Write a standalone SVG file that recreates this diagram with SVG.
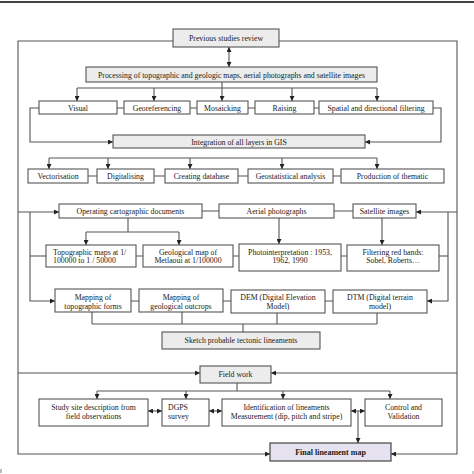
<svg xmlns="http://www.w3.org/2000/svg" width="474" height="474" viewBox="0 0 474 474">
<defs>
<marker id="ah" viewBox="0 0 6 6" refX="6" refY="3" markerWidth="5" markerHeight="5" orient="auto-start-reverse" markerUnits="userSpaceOnUse">
<path d="M0,0 L6,3 L0,6 z" fill="#222"/>
</marker>
<style>
.b{fill:#fff;stroke:#555;stroke-width:1.1}
.g{fill:#ececec;stroke:#555;stroke-width:1.1}
.f{fill:#e6e2ef;stroke:#444;stroke-width:1.2}
text{font-family:"Liberation Serif","Times New Roman",serif;font-size:7.8px;fill:#1a1a1a;text-anchor:middle}
.l{text-anchor:start}
.bold{font-weight:bold;font-size:8px}
#connectors path{fill:none;stroke:#555;stroke-width:1.1}
.a{marker-end:url(#ah)}
.d{marker-start:url(#ah);marker-end:url(#ah)}
</style>
</defs>
<rect width="474" height="474" fill="#fff"/>
<line x1="0" y1="2" x2="474" y2="2" stroke="#444" stroke-width="2"/>
<line x1="1" y1="469" x2="1" y2="473" stroke="#777" stroke-width="1"/>
<line x1="473" y1="471" x2="473" y2="474" stroke="#999" stroke-width="1"/>

<g id="connectors">
<path class="d" d="M229,47 V67"/>
<path class="a" d="M173,41 H18 V454 H270"/>
<path class="a" d="M279,41 H457 V454 H391"/>
<path class="a" d="M222,82 V101"/>
<path d="M77,88 H377"/>
<path class="a" d="M77,88 V101"/>
<path class="a" d="M154,88 V101"/>
<path class="a" d="M292,88 V101"/>
<path class="a" d="M377,88 V101"/>
<path d="M117,108 H124 M190,108 H197 M248,108 H255 M314,108 H319"/>
<path class="a" d="M39,108 H30 V142 H113"/>
<path class="a" d="M433,108 H441 V142 H365"/>
<path d="M49,158 H377"/>
<path class="a" d="M49,158 V169"/>
<path class="a" d="M108,158 V169"/>
<path class="a" d="M190,158 V169"/>
<path class="a" d="M282,158 V169"/>
<path class="a" d="M377,158 V169"/>
<path d="M88,176 H97 M154,176 H165 M238,176 H248 M333,176 H341"/>
<path class="a" d="M18,212 H59"/>
<path class="a" d="M30,212 V301 H55"/>
<path d="M30,256 H46"/>
<path d="M202,211 H219 M334,211 H353"/>
<path class="a" d="M457,212 H416"/>
<path class="a" d="M448,212 V301 H427"/>
<path d="M448,256 H439"/>
<path d="M128,218 V232 M86,232 H179"/>
<path class="a" d="M86,232 V245"/>
<path class="a" d="M179,232 V245"/>
<path class="a" d="M279,218 V244"/>
<path class="a" d="M382,218 V245"/>
<path d="M136,256 H143 M233,256 H239 M341,256 H347"/>
<path d="M131,301 H139 M223,301 H231 M325,301 H333"/>
<path d="M92,312 V324 M182,312 V324 M277,313 V324 M377,313 V324 M92,324 H377 M243,324 V332"/>
<path class="a" d="M18,373 H200"/>
<path class="a" d="M457,373 H271"/>
<path d="M237,383 V391 M97,391 H390"/>
<path class="a" d="M97,391 V399"/>
<path class="a" d="M186,391 V399"/>
<path class="a" d="M283,391 V399"/>
<path class="a" d="M390,391 V399"/>
<path class="d" d="M148,411 H162"/>
<path class="d" d="M209,411 H222"/>
<path class="d" d="M351,411 H365"/>
<path class="a" d="M358,411 V443"/>
</g>

<g id="previous"><rect class="g" x="173" y="29" width="106" height="18"/><text x="226" y="41">Previous studies review</text></g>
<g id="processing"><rect class="g" x="86" y="67" width="291" height="15"/><text x="231.5" y="77.5">Processing of topographic and geologic  maps, aerial  photographs and satellite images</text></g>
<g id="visual"><rect class="b" x="39" y="101" width="78" height="13"/><text x="78" y="110.5">Visual</text></g>
<g id="georef"><rect class="b" x="124" y="101" width="66" height="13"/><text x="157" y="110.5">Georeferencing</text></g>
<g id="mosaic"><rect class="b" x="197" y="101" width="51" height="13"/><text x="222.5" y="110.5">Mosaicking</text></g>
<g id="raising"><rect class="b" x="255" y="101" width="59" height="13"/><text x="284.5" y="110.5">Raising</text></g>
<g id="spatial"><rect class="b" x="319" y="101" width="114" height="13"/><text x="376" y="110.5">Spatial and directional filtering</text></g>
<g id="integration"><rect class="g" x="113" y="135" width="252" height="13"/><text x="239" y="144.5">Integration of all layers in GIS</text></g>
<g id="vector"><rect class="b" x="28" y="169" width="60" height="14"/><text x="58" y="179">Vectorisation</text></g>
<g id="digit"><rect class="b" x="97" y="169" width="57" height="14"/><text x="125.5" y="179">Digitalising</text></g>
<g id="createdb"><rect class="b" x="165" y="169" width="73" height="14"/><text x="201.5" y="179">Creating database</text></g>
<g id="geostat"><rect class="b" x="248" y="169" width="85" height="14"/><text x="290.5" y="179">Geostatistical analysis</text></g>
<g id="product"><rect class="b" x="341" y="169" width="103" height="14"/><text x="392.5" y="179">Production of thematic</text></g>
<g id="operating"><rect class="b" x="59" y="204" width="143" height="14"/><text x="130.5" y="214">Operating cartographic documents</text></g>
<g id="aerial"><rect class="b" x="219" y="204" width="115" height="14"/><text x="276.5" y="214">Aerial photographs</text></g>
<g id="satellite"><rect class="b" x="353" y="204" width="63" height="14"/><text x="384.5" y="214">Satellite images</text></g>
<g id="topo"><rect class="b" x="46" y="245" width="90" height="22"/><text class="l" x="53" y="254.5">Topographic maps at 1/</text><text class="l" x="53" y="263">100000 to 1 / 50000</text></g>
<g id="geol"><rect class="b" x="143" y="245" width="90" height="22"/><text x="188" y="254.5">Geological  map of</text><text x="188" y="263">Metlaoui at 1/100000</text></g>
<g id="photo"><rect class="b" x="239" y="244" width="102" height="27"/><text x="290" y="254.5">Photointerpretation : 1953,</text><text x="290" y="263">1962, 1990</text></g>
<g id="filter"><rect class="b" x="347" y="245" width="92" height="26"/><text x="393" y="254.5">Filtering red bands:</text><text x="393" y="263">Sobel, Roberts…</text></g>
<g id="maptopo"><rect class="b" x="55" y="289" width="76" height="23"/><text x="93" y="299.5">Mapping of</text><text x="93" y="308.5">topographic forms</text></g>
<g id="mapgeol"><rect class="b" x="139" y="289" width="84" height="23"/><text x="181" y="299.5">Mapping of</text><text x="181" y="308.5">geological  outcrops</text></g>
<g id="dem"><rect class="b" x="231" y="290" width="94" height="23"/><text x="278" y="299.5">DEM (Digital Elevation</text><text x="278" y="308.5">Model)</text></g>
<g id="dtm"><rect class="b" x="333" y="290" width="94" height="23"/><text x="380" y="299.5">DTM (Digital terrain</text><text x="380" y="308.5">model)</text></g>
<g id="sketch"><rect class="g" x="162" y="332" width="158" height="17"/><text x="241" y="343">Sketch probable tectonic lineaments</text></g>
<g id="field"><rect class="g" x="200" y="366" width="71" height="17"/><text x="235.5" y="377">Field work</text></g>
<g id="study"><rect class="b" x="39" y="399" width="109" height="27"/><text x="93.5" y="410">Study site description from</text><text x="93.5" y="418.5">field observations</text></g>
<g id="dgps"><rect class="b" x="162" y="399" width="47" height="27"/><text class="l" x="168" y="410">DGPS</text><text class="l" x="168" y="418.5">survey</text></g>
<g id="ident"><rect class="b" x="222" y="399" width="129" height="27"/><text x="286.5" y="410">Identification of lineaments</text><text x="286.5" y="418.5">Measurement (dip, pitch and stripe)</text></g>
<g id="control"><rect class="b" x="365" y="399" width="77" height="27"/><text x="403.5" y="410">Control and</text><text x="403.5" y="418.5">Validation</text></g>
<g id="final"><rect class="f" x="270" y="443" width="121" height="18"/><text class="bold" x="330.5" y="455">Final lineament map</text></g>
</svg>
